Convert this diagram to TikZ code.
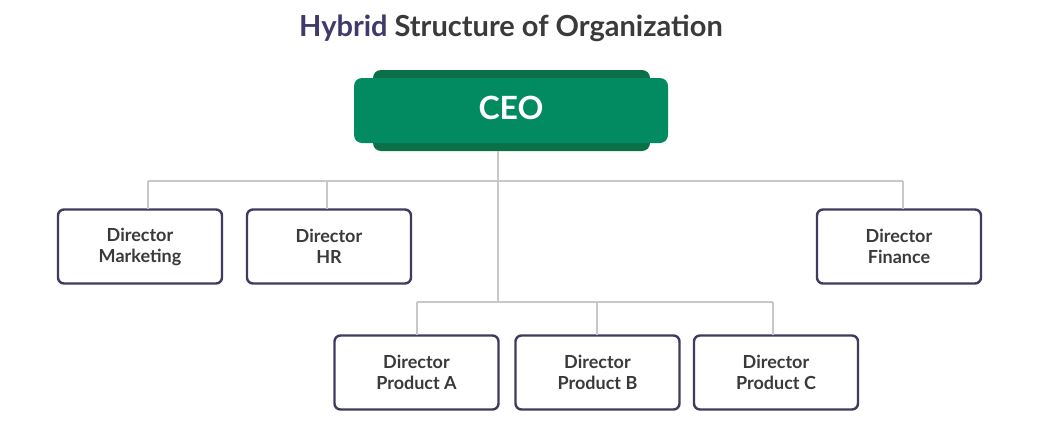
\documentclass[tikz,border=0pt]{standalone}
\usepackage{fontspec}
\setmainfont{Lato}
\definecolor{gdark}{HTML}{0B7047}
\definecolor{glight}{HTML}{028A60}
\definecolor{bord}{HTML}{3F3B5E}
\definecolor{ln}{HTML}{C8C8C8}
\definecolor{hyb}{HTML}{3F3A6B}
\definecolor{ttl}{HTML}{3A3A3A}
\begin{document}
\begin{tikzpicture}[x=1pt,y=-1pt,
  dir/.style={draw=bord,line width=2.4pt,rounded corners=6pt,fill=white,minimum width=164pt,minimum height=74pt,align=center,font=\fontsize{18}{21}\selectfont\bfseries,text=ttl,inner sep=0pt},
  con/.style={draw=ln,line width=2.4pt}]
\useasboundingbox (0,0) rectangle (1047,431);
\node[font=\fontsize{29}{34}\selectfont\bfseries] (title) at (511,28) {\textcolor{hyb}{Hybrid} \textcolor{ttl}{Structure of Organization}};
\fill[gdark,rounded corners=8pt] (373,70) rectangle (650,151);
\fill[glight,rounded corners=8pt] (354,78) rectangle (668,143);
\node[text=white,font=\fontsize{32}{36}\selectfont\bfseries] (ceo) at (511,108) {CEO};
\coordinate (ceob) at (498,151);
\node[dir] (mk) at (140,246.5) {Director\\Marketing};
\node[dir] (hr) at (329,246.5) {Director\\HR};
\node[dir] (fi) at (899,246.5) {Director\\Finance};
\node[dir] (pa) at (416.5,372.5) {Director\\Product A};
\node[dir] (pb) at (597.5,372.5) {Director\\Product B};
\node[dir] (pc) at (776,372.5) {Director\\Product C};
\coordinate (j1) at (498,181);
\coordinate (j2) at (498,302);
\draw[con] (ceob) -- (j2);
\draw[con] (148,181) -- (903,181);
\draw[con] (148,181) -- (148,209);
\draw[con] (327,181) -- (327,209);
\draw[con] (903,181) -- (903,209);
\draw[con] (417,302) -- (773,302);
\draw[con] (417,302) -- (417,335);
\draw[con] (597,302) -- (597,335);
\draw[con] (773,302) -- (773,335);
\end{tikzpicture}
\end{document}
